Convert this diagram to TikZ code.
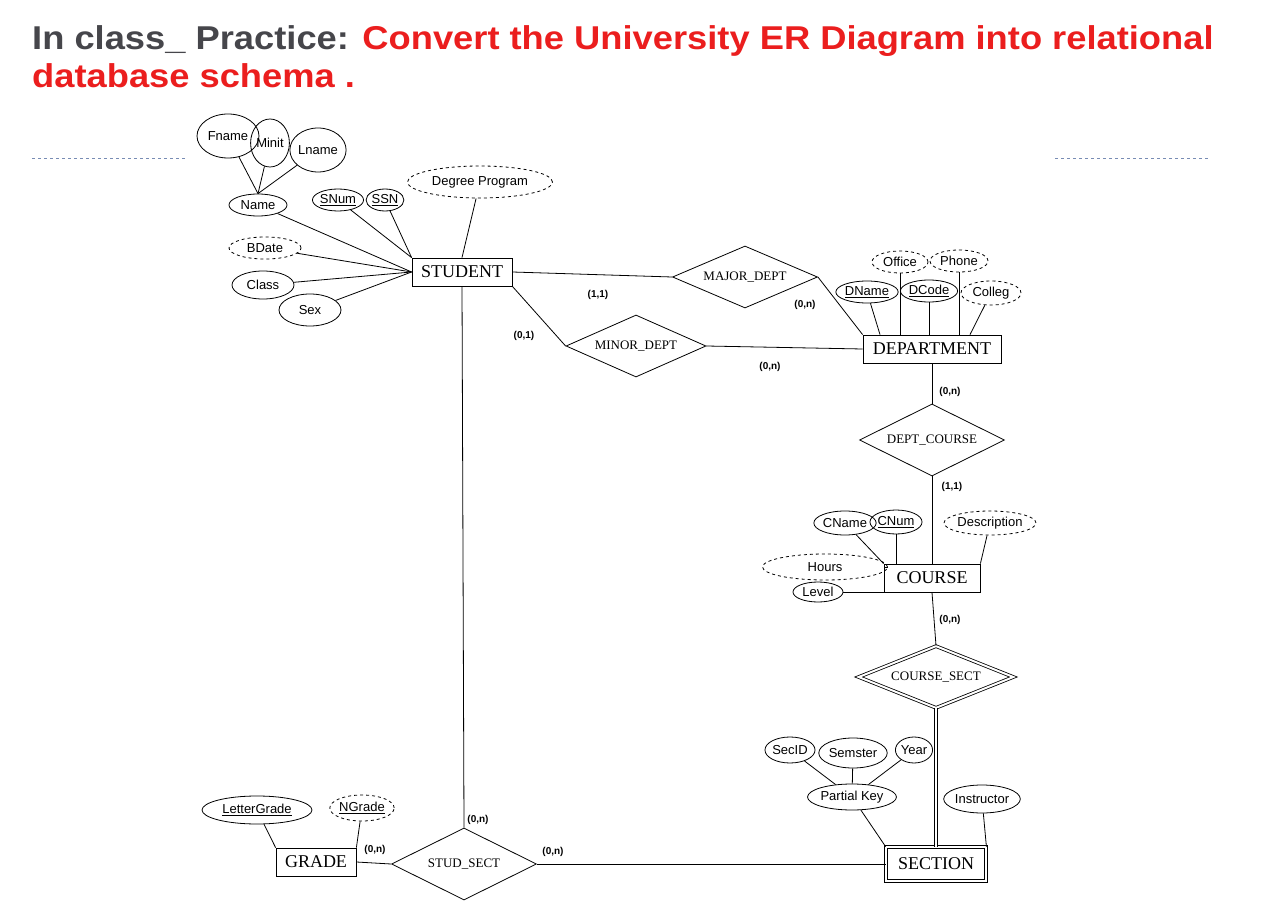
\documentclass[tikz,border=0pt]{standalone}
\usepackage{fontspec}
\setmainfont{Liberation Serif}
\setsansfont{Liberation Sans}
\newfontfamily\ttlfont[FakeStretch=1.1]{Liberation Sans}
\usetikzlibrary{shapes.geometric}
\definecolor{ttlred}{RGB}{235,30,30}
\definecolor{ttlgray}{RGB}{70,70,75}
\definecolor{dashc}{RGB}{120,140,180}
\tikzset{
 attr/.style={ellipse,draw,thick,inner sep=0pt,font=\sffamily\fontsize{13}{13}\selectfont},
 dattr/.style={attr,dashed},
 ent/.style={rectangle,draw,thick,font=\fontsize{18}{18}\selectfont,inner sep=0pt},
 rel/.style={diamond,draw,thick,aspect=2.3,inner sep=0pt,font=\fontsize{13}{13}\selectfont},
 card/.style={font=\sffamily\bfseries\fontsize{10}{10}\selectfont,inner sep=1pt},
 ln/.style={thick}
}
\begin{document}
\begin{tikzpicture}[x=1pt,y=-1pt]
\useasboundingbox (0,0) rectangle (1280,909);
\fill[white] (0,0) rectangle (1280,909);
\node[anchor=base west,inner sep=0pt,font=\ttlfont\bfseries\fontsize{33}{33}\selectfont] (t1) at (32,50) {\textcolor{ttlgray}{In class\_ Practice:} \textcolor{ttlred}{Convert the University ER Diagram into relational}};
\node[anchor=base west,inner sep=0pt,font=\ttlfont\bfseries\fontsize{33}{33}\selectfont,text=ttlred] (t2) at (32,88) {database schema .};
\coordinate (d1) at (32,158); \coordinate (d2) at (185,158);
\coordinate (d3) at (1055,158); \coordinate (d4) at (1210,158);
\draw[dashc,dashed] (d1)--(d2); \draw[dashc,dashed] (d3)--(d4);

% entities
\node[ent,minimum width=100,minimum height=28] (stu) at (462,272) {STUDENT};
\node[ent,minimum width=138,minimum height=28] (dep) at (932,349) {DEPARTMENT};
\node[ent,minimum width=96,minimum height=28] (cou) at (932,578) {COURSE};
\node[ent,minimum width=100,minimum height=34,double,double distance=2pt] (sec) at (936,864) {SECTION};
\node[ent,minimum width=80,minimum height=28] (gra) at (316,862) {GRADE};
% relationships
\node[rel,minimum width=145,minimum height=62] (maj) at (745,277) {MAJOR\_DEPT};
\node[rel,minimum width=140,minimum height=62] (min) at (636,346) {MINOR\_DEPT};
\node[rel,minimum width=145,minimum height=72] (dc) at (932,440) {DEPT\_COURSE};
\node[rel,minimum width=155,minimum height=62,double,double distance=2pt] (cs) at (936,677) {COURSE\_SECT};
\node[rel,minimum width=145,minimum height=72] (ss) at (464,864) {STUD\_SECT};
% student attributes
\node[attr,minimum width=62,minimum height=44] (fn) at (228,136) {Fname};
\node[attr,minimum width=36,minimum height=48] (mi) at (270,143) {Minit};
\node[attr,minimum width=52,minimum height=44] (lna) at (318,150) {Lname};
\node[attr,minimum width=58,minimum height=22] (nm) at (258,205) {Name};
\node[attr,minimum width=42,minimum height=22] (snum) at (338,200) {\underline{SNum}};
\node[attr,minimum width=34,minimum height=22] (ssn) at (385,200) {\underline{SSN}};
\node[dattr,minimum width=145,minimum height=32] (dp) at (480,182) {Degree Program};
\node[dattr,minimum width=72,minimum height=22] (bd) at (265,248) {BDate};
\node[attr,minimum width=62,minimum height=28] (cl) at (263,285) {Class};
\node[attr,minimum width=62,minimum height=32] (sx) at (310,310) {Sex};
\draw[ln] (fn)--(nm.north); \draw[ln] (mi)--(nm.north); \draw[ln] (lna)--(nm.north);
\draw[ln] (nm)--(stu.west); \draw[ln] (snum)--(stu.north west); \draw[ln] (ssn)--(stu.north west);
\draw[ln] (dp)--(stu.north); \draw[ln] (bd)--(stu.west); \draw[ln] (cl)--(stu.west); \draw[ln] (sx)--(stu.west);
% department attributes
\node[dattr,minimum width=56,minimum height=22] (of) at (900,262) {Office};
\node[dattr,minimum width=58,minimum height=22] (ph) at (959,261) {Phone};
\node[attr,minimum width=58,minimum height=22] (dn) at (867,292) {\underline{DName}};
\node[attr,minimum width=48,minimum height=22] (dco) at (929,291) {\underline{DCode}};
\node[dattr,minimum width=60,minimum height=24] (co) at (991,293) {Colleg};
\draw[ln] (of.south)--(of.south|-dep.north); \draw[ln] (ph.south)--(ph.south|-dep.north);
\draw[ln] (dn)--(dep.north -| 880,0); \draw[ln] (dco.south)--(dco.south|-dep.north); \draw[ln] (co)--(dep.north -| 970,0);
% course attributes
\node[attr,minimum width=58,minimum height=24] (cn) at (845,523) {CName};
\node[attr,minimum width=44,minimum height=24] (cnu) at (896,522) {\underline{CNum}};
\node[dattr,minimum width=90,minimum height=24] (des) at (990,523) {Description};
\node[dattr,minimum width=125,minimum height=26] (hr) at (825,567) {Hours};
\node[attr,minimum width=50,minimum height=20] (lv) at (818,592) {Level};
\draw[ln] (cn)--(cou.north west); \draw[ln] (cnu.south)--(cnu.south|-cou.north); \draw[ln] (des)--(cou.north east);
\draw[ln] (hr.east)--(hr.east-|cou.west); \draw[ln] (lv.east)--(lv.east-|cou.west);
% section attributes
\node[attr,minimum width=48,minimum height=26] (sid) at (790,750) {SecID};
\node[attr,minimum width=64,minimum height=30] (sem) at (853,753) {Semster};
\node[attr,minimum width=32,minimum height=26] (yr) at (914,750) {Year};
\node[attr,minimum width=76,minimum height=26] (pk) at (852,797) {Partial Key};
\node[attr,minimum width=75,minimum height=28] (ins) at (982,799) {Instructor};
\draw[ln] (sid)--(pk); \draw[ln] (sem)--(pk); \draw[ln] (yr)--(pk);
\draw[ln] (pk)--(sec.north west); \draw[ln] (ins)--(sec.north east);
% grade attributes
\node[attr,minimum width=110,minimum height=28] (lg) at (257,810) {\underline{LetterGrade}};
\node[dattr,minimum width=58,minimum height=26] (ng) at (362,808) {\underline{NGrade}};
\draw[ln] (lg)--(gra.north west); \draw[ln] (ng)--(gra.north east);
% relationships edges
\draw[ln] (stu.east)--(maj.west);
\draw[ln] (maj.east)--(dep.north west);
\draw[ln] (stu.south east)--(min.west);
\draw[ln] (min.east)--(dep.west);
\draw[ln] (dep.south)--(dc.north);
\draw[ln] (dc.south)--(cou.north);
\draw[ln] (cou.south)--(cs.north);
\draw[ln,double,double distance=2pt] (cs.south)--(sec.north);
\draw[ln] (stu.south)--(ss.north);
\draw[ln] (ss.west)--(gra.east);
\draw[ln] (ss.east)--(sec.west);
% cardinalities
\node[card] (c1) at (598,295) {(1,1)};
\node[card] (c2) at (805,305) {(0,n)};
\node[card] (c3) at (524,336) {(0,1)};
\node[card] (c4) at (770,367) {(0,n)};
\node[card] (c5) at (950,392) {(0,n)};
\node[card] (c6) at (952,487) {(1,1)};
\node[card] (c7) at (950,620) {(0,n)};
\node[card] (c8) at (478,820) {(0,n)};
\node[card] (c9) at (375,850) {(0,n)};
\node[card] (c10) at (553,852) {(0,n)};
\end{tikzpicture}
\end{document}
